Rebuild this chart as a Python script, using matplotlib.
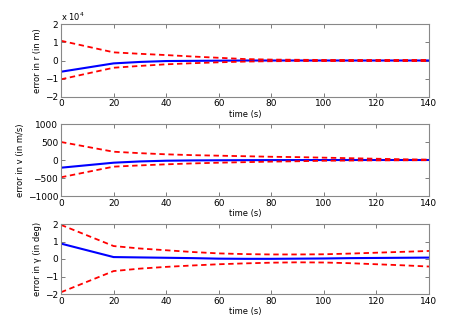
import matplotlib
matplotlib.use("Agg")
import matplotlib.pyplot as plt
import numpy as np

# time samples (s)
t = [0, 20, 30, 40, 50, 60, 70, 80, 90, 100, 110, 120, 130, 140]

# error in r (in units of 1e4 m)
r_err = [-0.62, -0.16, -0.08, -0.03, -0.02, -0.01, 0, 0, 0, 0, 0, 0, 0, 0]
r_up = [1.09, 0.45, 0.37, 0.30, 0.22, 0.15, 0.08, 0.05, 0.04, 0.03, 0.03, 0.03, 0.03, 0.03]
r_lo = [-1.04, -0.40, -0.30, -0.21, -0.15, -0.10, -0.06, -0.04, -0.03, -0.03, -0.03, -0.03, -0.03, -0.03]

# error in v (m/s)
v_err = [-214, -75, -40, -20, -12, -8, -5, -3, -2, -1, 0, 0, 0, 0]
v_up = [500, 230, 190, 158, 135, 120, 105, 90, 80, 65, 50, 35, 20, 10]
v_lo = [-480, -185, -150, -120, -95, -75, -60, -45, -35, -20, -15, -10, -8, -5]

# error in gamma (deg)
g_err = [0.88, 0.11, 0.09, 0.07, 0.05, 0.02, 0.01, 0.01, 0.02, 0.03, 0.05, 0.06, 0.07, 0.08]
g_up = [1.95, 0.74, 0.60, 0.50, 0.40, 0.32, 0.28, 0.26, 0.26, 0.27, 0.31, 0.36, 0.41, 0.46]
g_lo = [-1.9, -0.69, -0.55, -0.45, -0.37, -0.30, -0.25, -0.21, -0.19, -0.20, -0.24, -0.30, -0.36, -0.43]

panels = [
    (r_err, r_up, r_lo, "error in r (in m)", (-2, 2), [-2, -1, 0, 1, 2]),
    (v_err, v_up, v_lo, "error in v (in m/s)", (-1000, 1000), [-1000, -500, 0, 500, 1000]),
    (g_err, g_up, g_lo, "error in \u03b3 (in deg)", (-2, 2), [-2, -1, 0, 1, 2]),
]

plt.rcParams["font.family"] = "DejaVu Sans"
fig = plt.figure(figsize=(4.74, 3.31), dpi=100)
left, width = 61 / 474, (429 - 61) / 474
tops = [24.3, 124, 224]
bottoms = [96.7, 196, 294]

for i, (err, up, lo, ylab, ylim, yt) in enumerate(panels):
    b = 1 - bottoms[i] / 331
    h = (bottoms[i] - tops[i]) / 331
    ax = fig.add_axes([left, b, width, h])
    ax.plot(t, err, color="#0000ff", lw=1.5)
    ax.plot(t, up, color="#ff0000", lw=1.3, ls="--", dashes=(3, 2))
    ax.plot(t, lo, color="#ff0000", lw=1.3, ls="--", dashes=(3, 2))
    ax.set_xlim(0, 140)
    ax.set_ylim(*ylim)
    ax.set_xticks([0, 20, 40, 60, 80, 100, 120, 140])
    ax.set_yticks(yt)
    ax.tick_params(direction="in", top=True, right=True, labelsize=6.5,
                   length=3, width=0.6, color="#666666", pad=2)
    for s in ax.spines.values():
        s.set_color("#888888")
        s.set_linewidth(0.8)
    ax.set_xlabel("time (s)", fontsize=6, labelpad=1)
    ax.set_ylabel(ylab, fontsize=6, labelpad=2)
    if i == 0:
        ax.text(0, 1.02, r"x 10$^{4}$", transform=ax.transAxes, fontsize=6,
                va="bottom", ha="left")

fig.savefig("out.png", dpi=100)
